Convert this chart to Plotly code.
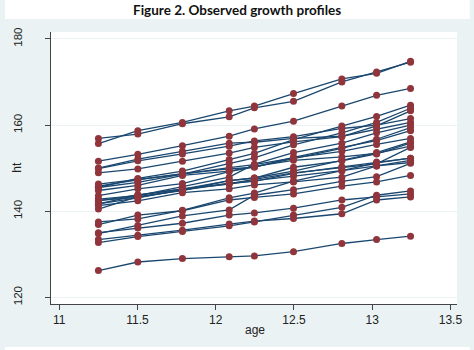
import plotly.graph_objects as go

# Measurement ages (years)
ages = [11.25, 11.502, 11.787, 12.086, 12.247, 12.497, 12.806, 13.028, 13.245]

# Heights (cm) per subject, one list per boy
ht_s1 = [140.5, 143.4, 144.8, 147.1, 147.7, 150.2, 151.7, 153.3, 155.8]
ht_s2 = [136.9, 139.1, 140.1, 142.6, 143.2, 144.0, 145.8, 146.8, 148.3]
ht_s3 = [150.0, 152.1, 153.9, 155.8, 156.0, 156.9, 157.4, 159.1, 160.6]
ht_s4 = [155.7, 158.7, 160.6, 163.3, 164.4, 167.3, 170.7, 172.0, 174.8]
ht_s5 = [145.8, 147.3, 148.7, 149.8, 150.2, 152.5, 154.8, 156.4, 158.7]
ht_s6 = [142.4, 143.8, 145.2, 146.3, 147.1, 148.1, 149.4, 150.5, 151.8]
ht_s7 = [141.3, 142.4, 144.3, 145.2, 146.1, 146.8, 147.9, 150.5, 151.3]
ht_s8 = [141.7, 143.7, 145.1, 147.1, 147.7, 149.3, 151.8, 153.6, 156.1]
ht_s9 = [132.7, 134.1, 135.3, 136.6, 137.5, 139.1, 140.9, 143.7, 144.7]
ht_s10 = [126.2, 128.2, 129.0, 129.4, 129.6, 130.6, 132.5, 133.4, 134.2]
ht_s11 = [142.5, 143.2, 144.9, 146.4, 147.4, 148.9, 150.1, 151.0, 154.8]
ht_s12 = [149.9, 151.7, 153.3, 155.1, 156.3, 157.3, 159.2, 160.0, 161.5]
ht_s13 = [148.9, 149.8, 151.6, 153.5, 154.8, 156.1, 157.3, 159.8, 163.3]
ht_s14 = [151.6, 153.2, 155.2, 157.4, 159.1, 160.9, 164.4, 166.9, 168.5]
ht_s15 = [137.5, 138.2, 140.2, 143.1, 144.2, 147.0, 149.4, 151.2, 152.3]
ht_s16 = [142.8, 143.6, 145.7, 147.9, 150.9, 153.6, 155.8, 158.2, 160.0]
ht_s17 = [145.5, 147.6, 149.3, 152.0, 153.4, 156.6, 159.8, 162.0, 164.6]
ht_s18 = [135.0, 136.1, 137.2, 139.1, 139.6, 140.7, 142.6, 143.3, 144.0]
ht_s19 = [145.5, 146.7, 148.6, 151.1, 152.4, 155.4, 158.2, 160.6, 163.9]
ht_s20 = [144.8, 146.0, 148.3, 149.3, 150.4, 151.8, 152.6, 153.4, 155.1]
ht_s21 = [143.6, 145.2, 146.4, 149.2, 150.3, 152.3, 154.6, 156.7, 159.4]
ht_s22 = [133.4, 134.4, 135.6, 137.0, 137.7, 138.3, 139.4, 142.6, 143.3]
ht_s23 = [141.7, 143.1, 145.0, 146.5, 146.9, 148.8, 150.3, 151.4, 152.3]
ht_s24 = [146.3, 147.3, 148.6, 150.1, 150.8, 152.4, 153.9, 155.5, 156.9]
ht_s25 = [134.8, 136.7, 138.9, 140.3, 143.7, 145.0, 146.9, 148.0, 151.1]
ht_s26 = [156.9, 157.9, 160.3, 161.9, 164.0, 165.5, 170.0, 172.3, 174.6]

subjects = [ht_s1, ht_s2, ht_s3, ht_s4, ht_s5, ht_s6, ht_s7, ht_s8, ht_s9,
            ht_s10, ht_s11, ht_s12, ht_s13, ht_s14, ht_s15, ht_s16, ht_s17,
            ht_s18, ht_s19, ht_s20, ht_s21, ht_s22, ht_s23, ht_s24, ht_s25,
            ht_s26]

x_ticks = [11, 11.5, 12, 12.5, 13, 13.5]
y_ticks = [120, 140, 160, 180]

LINE = "#1a476f"
MARK = "#90353b"
BG = "#eaf2f3"

W, H = 474, 350
ML, MR, MT, MB = 47, 13, 32, 46
PW, PH = W - ML - MR, H - MT - MB

fig = go.Figure()
for hts in subjects:
    fig.add_trace(go.Scatter(x=ages, y=hts, mode="lines",
                             line=dict(color=LINE, width=1.3),
                             hoverinfo="skip", showlegend=False))
all_x = [a for hts in subjects for a in ages]
all_y = [v for hts in subjects for v in hts]
fig.add_trace(go.Scatter(x=all_x, y=all_y, mode="markers",
                         marker=dict(color=MARK, size=7, line=dict(width=0)),
                         showlegend=False))

def px_x(p):
    return (p - ML) / PW

def px_y(p):
    return (H - MB - p) / PH

fig.update_layout(
    width=W, height=H,
    margin=dict(l=ML, r=MR, t=MT, b=MB),
    paper_bgcolor=BG, plot_bgcolor="white",
    font=dict(family="Liberation Sans, Arial, sans-serif", color="#222"),
    xaxis=dict(range=[10.947, 13.542], tickvals=x_ticks,
               ticktext=[f"{v:g}" for v in x_ticks],
               showgrid=False, zeroline=False, showline=True,
               linecolor="#444", linewidth=1, ticks="outside", ticklen=5,
               tickcolor="#444", tickfont=dict(size=12, color="#222")),
    yaxis=dict(range=[118.45, 181.6], tickvals=y_ticks,
               showgrid=True, gridcolor=BG, gridwidth=1, zeroline=False,
               showline=True, linecolor="#444", linewidth=1,
               ticks="outside", ticklen=5, tickcolor="#444",
               tickangle=-90, ticklabelstandoff=18,
               tickfont=dict(size=11.5, color="#222")),
    shapes=[
        dict(type="rect", xref="paper", yref="paper",
             x0=px_x(0), x1=px_x(W), y0=px_y(19), y1=px_y(0),
             fillcolor="white", line=dict(width=0), layer="below"),
        dict(type="rect", xref="paper", yref="paper",
             x0=px_x(0), x1=px_x(W), y0=px_y(H), y1=px_y(347),
             fillcolor="white", line=dict(width=0), layer="below"),
    ],
    annotations=[
        dict(text="<b>Figure 2. Observed growth profiles</b>", xref="paper",
             yref="paper", x=px_x(237), y=px_y(10), showarrow=False,
             xanchor="center", yanchor="middle",
             font=dict(family="Lato, Open Sans, sans-serif", size=13.5,
                       color="#111")),
        dict(text="age", xref="paper", yref="paper", x=px_x(255),
             y=px_y(330), showarrow=False, xanchor="center",
             yanchor="middle", font=dict(size=12, color="#222")),
        dict(text="ht", xref="paper", yref="paper", x=px_x(12),
             y=px_y(167), showarrow=False, xanchor="center",
             yanchor="middle", textangle=-90,
             font=dict(size=12, color="#222")),
    ],
)

fig.write_html("out.html")
